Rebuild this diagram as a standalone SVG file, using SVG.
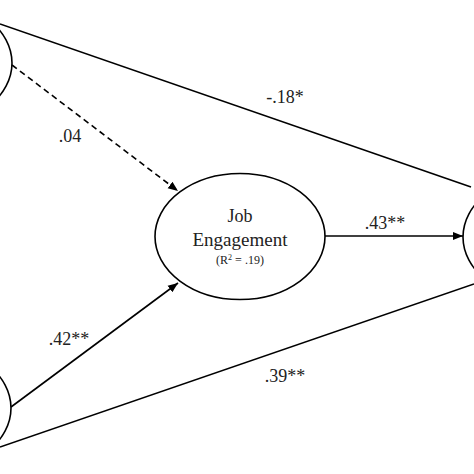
<svg xmlns="http://www.w3.org/2000/svg" width="474" height="474" viewBox="0 0 474 474">
<style>
.node{fill:#fff;stroke:#000;stroke-width:1.6}
.line{stroke:#000;stroke-width:1.6;fill:none}
.lbl{font-family:"Liberation Serif","Times New Roman",serif;font-size:18px;fill:#222;text-anchor:middle}
</style>
<defs>
<marker id="ah" viewBox="0 0 10 10" refX="10" refY="5" markerWidth="10" markerHeight="10" markerUnits="userSpaceOnUse" orient="auto">
<path d="M0,1 L10,5 L0,9 Z" fill="#000"/>
</marker>
</defs>
<rect width="474" height="474" fill="#fff"/>
<g id="connectors">
<line class="line" x1="0" y1="24" x2="471" y2="187"/>
<line class="line" x1="0" y1="447" x2="474" y2="284"/>
<line class="line" x1="12" y1="65" x2="178" y2="191" stroke-dasharray="6,4" marker-end="url(#ah)"/>
<line class="line" x1="11" y1="407" x2="178" y2="283" marker-end="url(#ah)"/>
<line class="line" x1="325" y1="236" x2="463" y2="236" marker-end="url(#ah)"/>
<text class="lbl" x="70" y="142">.04</text>
<text class="lbl" x="69" y="345">.42**</text>
<text class="lbl" x="285" y="103">-.18*</text>
<text class="lbl" x="285" y="382">.39**</text>
<text class="lbl" x="385" y="229">.43**</text>
</g>
<g id="node-top-left"><ellipse class="node" cx="-73" cy="63" rx="85" ry="63"/></g>
<g id="node-bottom-left"><ellipse class="node" cx="-74" cy="408" rx="85" ry="63"/></g>
<g id="node-right"><ellipse class="node" cx="548" cy="237" rx="85" ry="63"/></g>
<g id="node-job-engagement">
<ellipse class="node" cx="240" cy="236.5" rx="85" ry="63"/>
<text class="lbl" x="240" y="222">Job</text>
<text class="lbl" x="240" y="246" style="font-size:19px">Engagement</text>
<text class="lbl" x="240" y="264" style="font-size:12px">(R<tspan font-size="8" dy="-4">2</tspan><tspan dy="4"> = .19)</tspan></text>
</g>
</svg>
